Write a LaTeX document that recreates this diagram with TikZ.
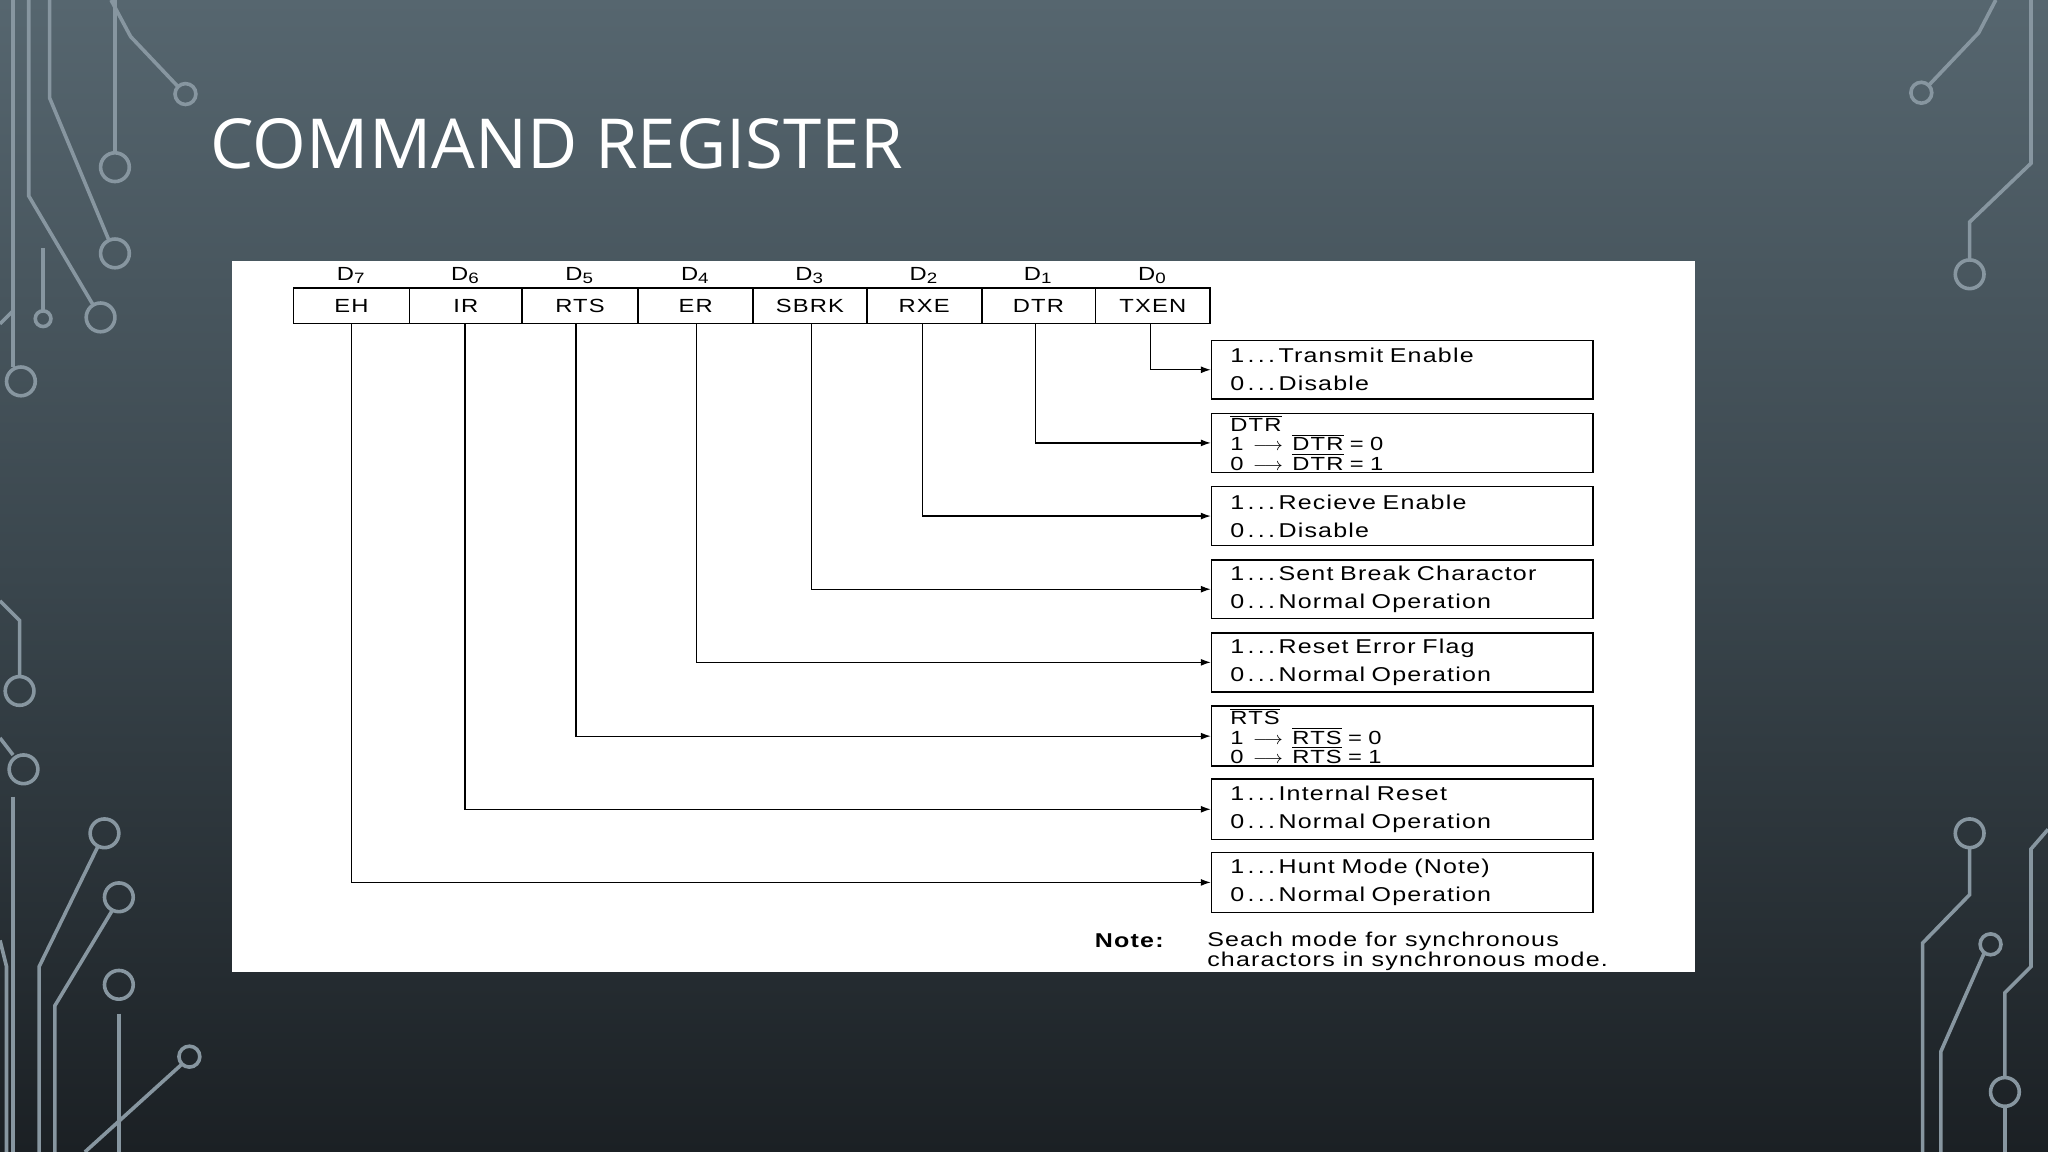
\documentclass[tikz,border=0pt]{standalone}
\usepackage{fontspec}
\setmainfont{Liberation Sans}
\newfontfamily\wide{Liberation Sans}[FakeStretch=1.25,LetterSpace=6]
\newfontfamily\titlefont{Open Sans}
\usetikzlibrary{arrows.meta}
\usepackage{calc}
\definecolor{bgtop}{HTML}{56666F}
\definecolor{bgmid}{HTML}{3A464D}
\definecolor{bgbot}{HTML}{1B2024}
\definecolor{circ}{HTML}{8796A0}
\newcommand{\ovl}[1]{\leavevmode\rlap{\rule[7.6pt]{\widthof{#1}}{0.45pt}}#1}
\newcommand{\dd}{\,.\,.\,.\,}
\newcommand{\arr}{\ \,$\longrightarrow$\, }
\begin{document}
\begin{tikzpicture}[x=0.653pt,y=-0.653pt,
  reg/.style={draw,line width=0.8pt,minimum height=27*0.653pt,inner sep=0pt,anchor=north west,font=\wide\fontsize{9.5}{10}\selectfont},
  bit/.style={font=\wide\fontsize{9.5}{10}\selectfont},
  desc/.style={draw,line width=0.8pt,minimum width=292*0.653pt,inner sep=0pt,anchor=north west,align=left,text width=280*0.653pt,font=\wide\fontsize{10}{10}\selectfont},
  ovbox/.style={desc,font=\wide\fontsize{9.5}{9.6}\selectfont},
  conn/.style={line width=0.6pt,-{Latex[length=5pt,width=3.5pt]}},
  cl/.style={circ,line width=1.8pt},
]
\useasboundingbox (0,0) rectangle (1568,882);
\shade[top color=bgtop,bottom color=bgbot,middle color=bgmid] (0,0) rectangle (1568,882);
\begin{scope}[cl]
\draw (85,0)--(100,28)--(136,66); \draw (142,72) circle (8);
\draw (88,0)--(88,117); \draw (88,128) circle (11);
\draw (38,0)--(38,75)--(83,183); \draw (88,194) circle (11);
\draw (22,0)--(22,150)--(71,233); \draw (77,243) circle (11);
\draw (10,0)--(10,281); \draw (16,292) circle (11);
\draw (33,190)--(33,238); \draw (33,244) circle (6);
\draw (0,248)--(10,238);
\draw (0,460)--(15,475)--(15,518); \draw (15,529) circle (11);
\draw (0,565)--(10,578); \draw (18,589) circle (11);
\draw (10,610)--(10,882);
\draw (30,882)--(30,740)--(75,648); \draw (80,638) circle (11);
\draw (42,882)--(42,770)--(86,697); \draw (91,687) circle (11);
\draw (91,776)--(91,882); \draw (91,754) circle (11);
\draw (65,882)--(139,815); \draw (145,809) circle (8);
\draw (0,720)--(5,740)--(5,882);
\draw (1528,0)--(1515,25)--(1477,65); \draw (1471,71) circle (8);
\draw (1555,0)--(1555,125)--(1508,170)--(1508,199); \draw (1508,210) circle (11);
\draw (1508,649)--(1508,685)--(1472,722)--(1472,882); \draw (1508,638) circle (11);
\draw (1519,730)--(1486,805)--(1486,882); \draw (1524,723) circle (8);
\draw (1535,825)--(1535,760)--(1555,740)--(1555,650)--(1568,635); \draw (1535,836) circle (11);
\draw (1535,847)--(1535,882);
\end{scope}
\node[anchor=base west,text=white,font=\titlefont\fontsize{34.5}{40}\selectfont] (title) at (156,129) {COMMAND REGISTER};
\fill[white] (178,200) rectangle (1298,744);
\foreach \n/\t/\xa/\xb/\b [count=\i] in {eh/EH/224/313/7,ir/IR/313/399/6,rts/RTS/399/488/5,er/ER/488/576/4,sbrk/SBRK/576/663/3,rxe/RXE/663/751/2,dtr/DTR/751/838/1,txen/TXEN/838/926/0}{
  \node[reg,minimum width={(\xb-\xa)*0.653pt}] (\n) at (\xa,220) {\t};
  \node[bit] (b\n) at ({(\xa+\xb)/2},211) {D\raisebox{-1.5pt}{\fontsize{7.5}{8}\selectfont\b}};
}
\node[desc,minimum height=45*0.653pt] (d0) at (927,260) {\hspace*{5.5pt}1\dd Transmit Enable\\[4pt]\hspace*{5.5pt}0\dd Disable};
\node[ovbox,minimum height=45*0.653pt] (d1) at (927,316) {\hspace*{5.5pt}\ovl{DTR}\\[0pt]\hspace*{5.5pt}1\arr\ovl{DTR} = 0\\[0pt]\hspace*{5.5pt}0\arr\ovl{DTR} = 1};
\node[desc,minimum height=45*0.653pt] (d2) at (927,372) {\hspace*{5.5pt}1\dd Recieve Enable\\[4pt]\hspace*{5.5pt}0\dd Disable};
\node[desc,minimum height=45*0.653pt] (d3) at (927,428) {\hspace*{5.5pt}1\dd Sent Break Charactor\\[4pt]\hspace*{5.5pt}0\dd Normal Operation};
\node[desc,minimum height=45*0.653pt] (d4) at (927,484) {\hspace*{5.5pt}1\dd Reset Error Flag\\[4pt]\hspace*{5.5pt}0\dd Normal Operation};
\node[ovbox,minimum height=46*0.653pt] (d5) at (927,540) {\hspace*{5.5pt}\ovl{RTS}\\[0pt]\hspace*{5.5pt}1\arr\ovl{RTS} = 0\\[0pt]\hspace*{5.5pt}0\arr\ovl{RTS} = 1};
\node[desc,minimum height=46*0.653pt] (d6) at (927,596) {\hspace*{5.5pt}1\dd Internal Reset\\[4pt]\hspace*{5.5pt}0\dd Normal Operation};
\node[desc,minimum height=46*0.653pt] (d7) at (927,652) {\hspace*{5.5pt}1\dd Hunt Mode (Note)\\[4pt]\hspace*{5.5pt}0\dd Normal Operation};
\foreach \n/\d/\x in {txen/d0/881,dtr/d1/793,rxe/d2/706,sbrk/d3/621,er/d4/533,rts/d5/441,ir/d6/356,eh/d7/269}{
  \draw[conn] (\n.south -| \x,0) |- (\d.west);
}
\node[anchor=west,inner sep=0pt,font=\wide\bfseries\fontsize{10}{10}\selectfont] (note) at (838,720) {Note:};
\node[anchor=north west,align=left,inner sep=0pt,font=\wide\fontsize{10}{8.6}\selectfont] (notetext) at (924,713) {Seach mode for synchronous\\charactors in synchronous mode.};
\end{tikzpicture}
\end{document}
